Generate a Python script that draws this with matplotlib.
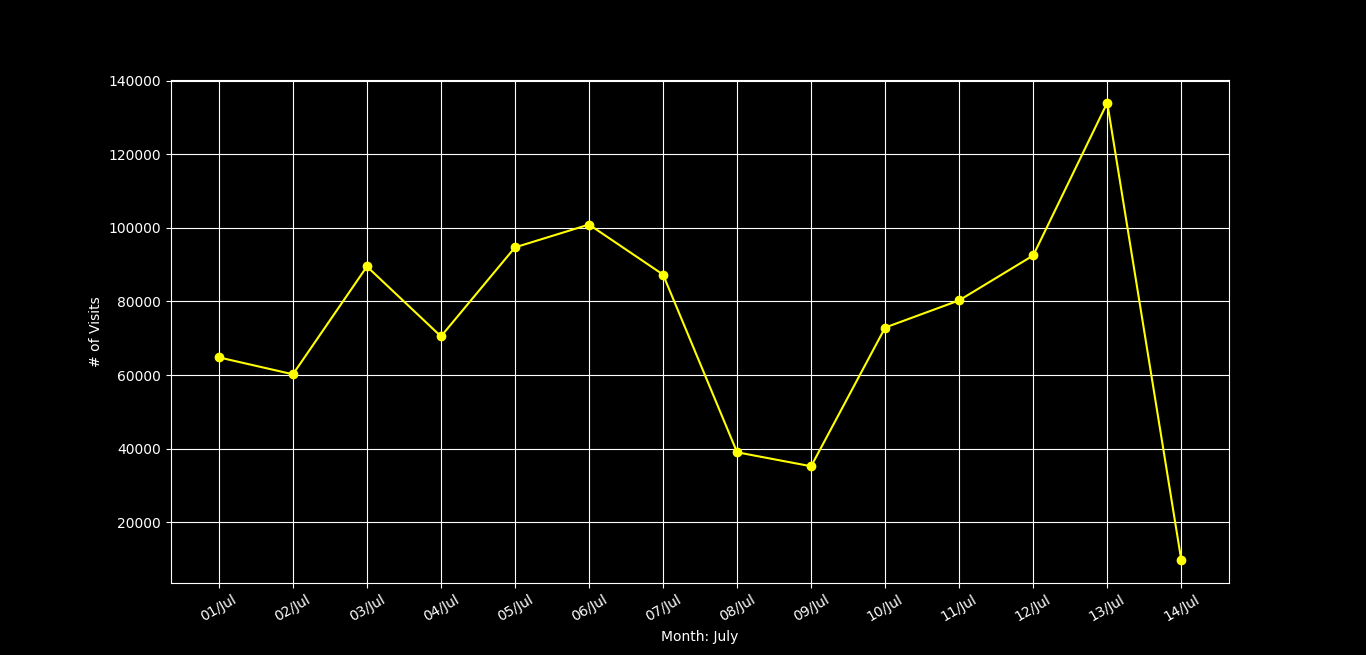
import matplotlib
matplotlib.use("Agg")
import matplotlib.pyplot as plt

plt.style.use("dark_background")

days = ["01/Jul", "02/Jul", "03/Jul", "04/Jul", "05/Jul", "06/Jul", "07/Jul",
        "08/Jul", "09/Jul", "10/Jul", "11/Jul", "12/Jul", "13/Jul", "14/Jul"]
visits = [64800, 60200, 89500, 70500, 94700, 100900, 87300,
          39000, 35200, 72900, 80300, 92500, 134000, 9700]

fig, ax = plt.subplots(figsize=(13.66, 6.55), dpi=100)
fig.subplots_adjust(left=0.125, right=0.9, top=0.878, bottom=0.11)
ax.plot(days, visits, color="yellow", marker="o")
ax.grid(True, color="white")
ax.set_xlabel("Month: July")
ax.set_ylabel("# of Visits")
plt.setp(ax.get_xticklabels(), rotation=30)
fig.savefig("out.png", dpi=100)
